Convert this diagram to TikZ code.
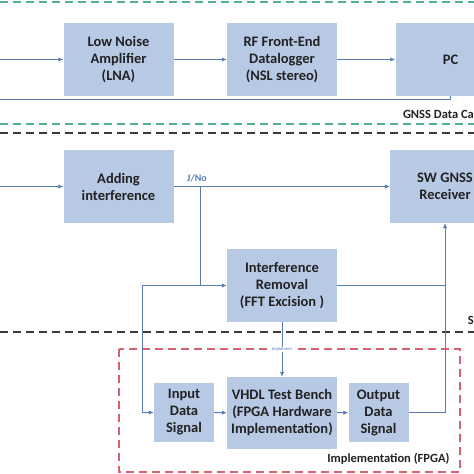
\documentclass[tikz,border=0pt]{standalone}
\usepackage{fontspec}
\setmainfont{Carlito}
\usetikzlibrary{arrows.meta}
\definecolor{boxfill}{HTML}{B7C9E5}
\definecolor{flowline}{HTML}{5A7BB5}
\definecolor{boxtext}{HTML}{222222}
\definecolor{capgreen}{HTML}{55B08F}
\definecolor{simgray}{HTML}{3A3A3A}
\definecolor{fpgared}{HTML}{D9606E}
\begin{document}
\begin{tikzpicture}[x=1pt,y=-1pt,
  >={Latex[length=5pt,width=4.5pt]},
  block/.style={fill=boxfill,text=boxtext,align=center,inner sep=0pt,
    minimum width=110pt,minimum height=73pt,
    font=\fontsize{14.5}{17}\selectfont\bfseries},
  smallblock/.style={block,minimum width=60pt,minimum height=59pt},
  flow/.style={draw=flowline,line width=1pt},
  sepline/.style={line width=1.3pt,dash pattern=on 8pt off 5pt},
  caption/.style={text=boxtext,font=\fontsize{12.5}{14}\selectfont\bfseries}]
\useasboundingbox (0,0) rectangle (474,474);
\clip (0,0) rectangle (474,474);

\draw[sepline,capgreen] (0,2) -- (474,2);
\draw[sepline,capgreen] (0,124) -- (474,124);
\draw[sepline,simgray] (0,133) -- (474,133);
\draw[sepline,simgray] (0,332) -- (474,332);
\draw[sepline,fpgared] (119,349) rectangle (460,472);

\node[block] (lna) at (118.5,59.5) {Low Noise\\Amplifier\\(LNA)};
\node[block] (rf) at (282,59.5) {RF Front-End\\Datalogger\\(NSL stereo)};
\node[block] (pc) at (450.5,59.5) {PC};
\node[block] (add) at (118.5,186.5) {Adding\\interference};
\node[block] (sw) at (445,186.5) {SW GNSS\\Receiver};
\node[block] (ir) at (282,285.5) {Interference\\Removal\\(FFT Excision )};
\node[smallblock] (in) at (184,412.5) {Input\\Data\\Signal};
\node[block,minimum height=72pt] (vhdl) at (282,413) {VHDL Test Bench\\(FPGA Hardware\\Implementation)};
\node[smallblock] (out) at (378.5,412.5) {Output\\Data\\Signal};

\node[caption,anchor=east,inner sep=0pt] (capt) at (474,114) {GNSS Data Ca};
\node[caption,anchor=east,inner sep=0pt] (simt) at (474,320) {S};
\node[caption,anchor=east] (fpgat) at (453,459) {Implementation (FPGA)};

\coordinate (antin) at (-5,59.5);
\coordinate (ret) at (-5,99);
\coordinate (sigin) at (-5,186.5);
\coordinate (br) at (200,186.5);
\coordinate (lk) at (142,285.5);

\draw[flow,->] (antin) -- (lna);
\draw[flow,->] (lna) -- (rf);
\draw[flow,->] (rf) -- (pc);
\draw[flow] (ret) -| (pc.south);

\draw[flow,->] (sigin) -- (add);
\draw[flow,->] (add) -- (sw);
\node[text=flowline,font=\fontsize{10}{12}\selectfont\bfseries,anchor=south] (jno) at (197,185) {J/No};
\draw[flow,->] (br) |- (ir);
\draw[flow] (br |- ir.west) -- (lk);
\draw[flow,->] (lk) |- (in);
\draw[flow] (ir) -- (ir -| sw.south);
\draw[flow,->] (out) -| (sw.south);

\draw[flow,->] (ir) -- (vhdl) node[midway,fill=white,inner sep=1pt,text=flowline,font=\fontsize{4.5}{5}\selectfont] {Implement};
\draw[flow,->] (in) -- (vhdl);
\draw[flow,->] (vhdl) -- (out);
\end{tikzpicture}
\end{document}
